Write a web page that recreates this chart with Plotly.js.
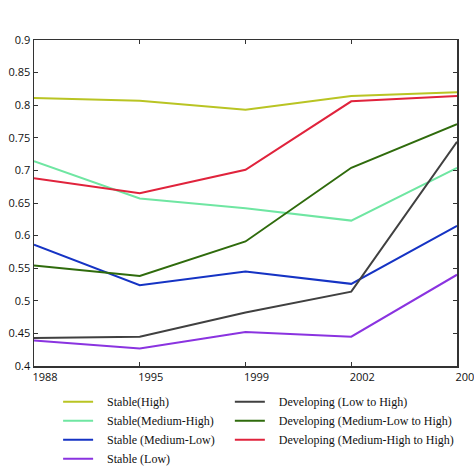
<!DOCTYPE html>
<html>
<head>
<meta charset="utf-8">
<script src="https://cdn.plot.ly/plotly-3.0.1.min.js"></script>
<style>html,body{margin:0;padding:0;background:#fff;}#chart{width:474px;height:474px;}</style>
</head>
<body>
<div id="chart"></div>
<script>
const years = ["1988", "1995", "1999", "2002", "2006"];
const seriesNames = ["Stable(High)", "Stable(Medium-High)", "Stable (Medium-Low)", "Stable (Low)",
  "Developing (Low to High)", "Developing (Medium-Low to High)", "Developing (Medium-High to High)"];
const stableHigh = [0.811, 0.807, 0.793, 0.814, 0.820];
const stableMediumHigh = [0.714, 0.657, 0.642, 0.623, 0.704];
const stableMediumLow = [0.586, 0.524, 0.545, 0.526, 0.615];
const stableLow = [0.439, 0.427, 0.452, 0.445, 0.540];
const devLowToHigh = [0.443, 0.445, 0.482, 0.514, 0.744];
const devMediumLowToHigh = [0.554, 0.538, 0.591, 0.704, 0.771];
const devMediumHighToHigh = [0.688, 0.665, 0.701, 0.806, 0.814];
const yTicks = [0.4, 0.45, 0.5, 0.55, 0.6, 0.65, 0.7, 0.75, 0.8, 0.85, 0.9];

const xIdx = years.map((_, i) => i);
const pad = '\u00a0\u00a0\u00a0';
function tr(name, y, color, legend) {
  return {x: xIdx, y: y, name: pad + name, type: 'scatter', mode: 'lines',
          line: {color: color, width: 2}, legend: legend};
}
const data = [
  tr(seriesNames[0], stableHigh, '#b9c423', 'legend'),
  tr(seriesNames[1], stableMediumHigh, '#6fe6a2', 'legend'),
  tr(seriesNames[2], stableMediumLow, '#1533c4', 'legend'),
  tr(seriesNames[3], stableLow, '#8a33e0', 'legend'),
  tr(seriesNames[4], devLowToHigh, '#404040', 'legend2'),
  tr(seriesNames[5], devMediumLowToHigh, '#2f6b0c', 'legend2'),
  tr(seriesNames[6], devMediumHighToHigh, '#e0233c', 'legend2')
];
const legFont = {family: 'Liberation Serif, Times New Roman, serif', size: 12, color: '#111'};
const layout = {
  width: 474, height: 474,
  margin: {l: 34, r: 17, t: 40, b: 108},
  paper_bgcolor: '#fff', plot_bgcolor: '#fff',
  showlegend: true,
  xaxis: {
    range: [0, 4], tickvals: xIdx, ticktext: years,
    showgrid: false, zeroline: false, showline: true, linecolor: '#333', linewidth: 1.5,
    mirror: 'ticks', ticks: 'inside', ticklen: 4, tickcolor: '#333',
    tickfont: {family: 'Open Sans, sans-serif', size: 11, color: '#111'},
    ticklabelshift: 11, ticklabeloverflow: 'allow', automargin: false
  },
  yaxis: {
    range: [0.4, 0.9], tickvals: yTicks, ticktext: yTicks.map(v => String(v)),
    showgrid: false, zeroline: false, showline: true, linecolor: '#333', linewidth: 1.5,
    mirror: 'ticks', ticks: 'inside', ticklen: 4, tickcolor: '#333',
    tickfont: {family: 'Open Sans, sans-serif', size: 11, color: '#111'}, automargin: false
  },
  legend: {x: 0.057, y: 0.183, xref: 'paper', yref: 'container', xanchor: 'left', yanchor: 'top',
           orientation: 'v', font: legFont, bgcolor: 'rgba(0,0,0,0)', tracegroupgap: 0},
  legend2: {x: 0.463, y: 0.183, xref: 'paper', yref: 'container', xanchor: 'left', yanchor: 'top',
           orientation: 'v', font: legFont, bgcolor: 'rgba(0,0,0,0)', tracegroupgap: 0}
};
Plotly.newPlot('chart', data, layout, {displayModeBar: false, staticPlot: true});
</script>
</body>
</html>
